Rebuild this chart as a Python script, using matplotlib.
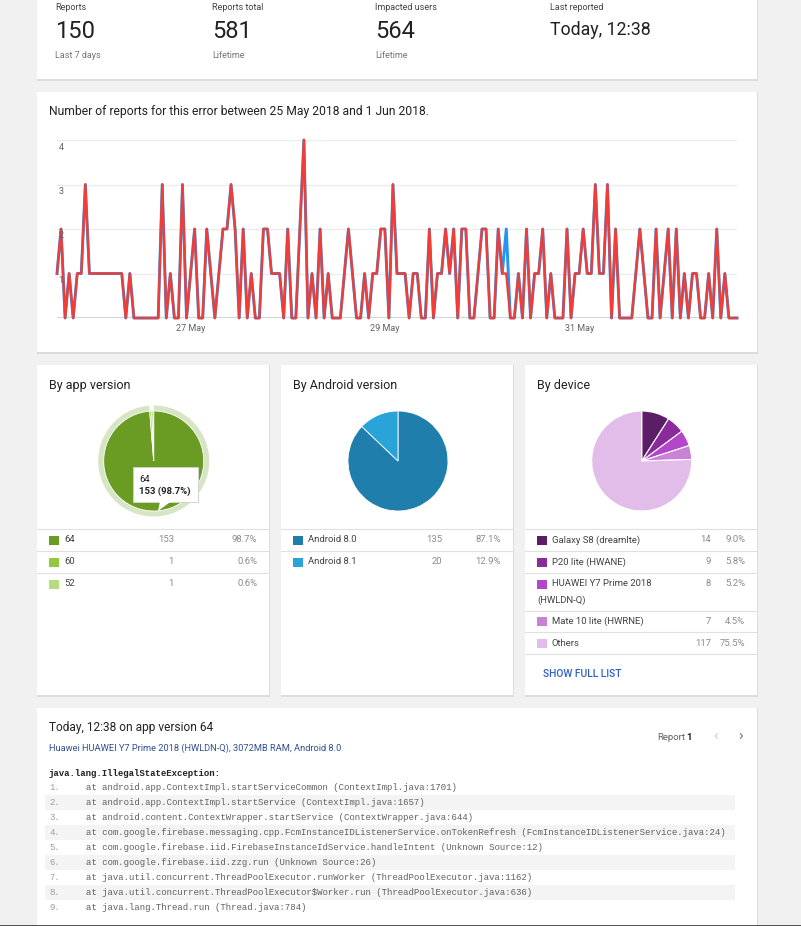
import numpy as np
import pandas as pd
import matplotlib
matplotlib.use("Agg")
import matplotlib.pyplot as plt
import matplotlib.dates as mdates
from matplotlib.patches import Rectangle, Polygon
from matplotlib.lines import Line2D
from matplotlib import transforms

plt.rcParams['font.family'] = ['Roboto', 'DejaVu Sans']

# ---- data ----
summary_labels = ["Reports", "Reports total", "Impacted users", "Last reported"]
summary_values = ["150", "581", "564", "Today, 12:38"]
summary_notes = ["Last 7 days", "Lifetime", "Lifetime", ""]

# hourly report counts, 25 May 15:00 .. 1 Jun 15:00
reports = [1, 2, 0, 1, 0, 1, 1, 3, 1, 1, 1, 1, 1, 1, 1, 1, 1, 0, 1, 0, 0, 0, 0, 0,
           0, 0, 3, 0, 1, 0, 0, 3, 0, 1, 2, 0, 0, 2, 1, 0, 1, 2, 2, 3, 2, 0, 2, 0,
           1, 0, 0, 2, 2, 1, 1, 1, 0, 2, 0, 0, 2, 4, 0, 1, 0, 2, 0, 1, 0, 0, 0, 1,
           2, 1, 0, 0, 1, 0, 1, 1, 2, 2, 0, 3, 1, 1, 1, 0, 1, 1, 0, 0, 2, 0, 1, 1,
           2, 1, 2, 0, 2, 2, 0, 0, 1, 2, 2, 0, 0, 2, 1, 1, 0, 0, 1, 0, 2, 0, 1, 1,
           2, 0, 1, 0, 0, 0, 2, 0, 1, 1, 2, 1, 1, 3, 1, 1, 3, 0, 2, 0, 0, 0, 0, 1,
           2, 1, 0, 0, 2, 0, 1, 2, 0, 2, 0, 1, 0, 1, 1, 0, 0, 1, 0, 2, 0, 1, 0, 0, 0]
users = list(reports)
users[111] = 2
hours = pd.date_range("2018-05-25 15:00", periods=len(reports), freq="h")
date_ticks = pd.to_datetime(["2018-05-27", "2018-05-29", "2018-05-31"])

app_versions = ["64", "60", "52"]
app_counts = [153, 1, 1]
app_pcts = ["98.7%", "0.6%", "0.6%"]
app_colors = ['#6a9c24', '#92c83e', '#b6dc80']

android_versions = ["Android 8.0", "Android 8.1"]
android_counts = [135, 20]
android_pcts = ["87.1%", "12.9%"]
android_colors = ['#1f7eac', '#2aa4d8']

devices = ["Galaxy S8 (dreamlte)", "P20 lite (HWANE)", "HUAWEI Y7 Prime 2018\n(HWLDN-Q)",
           "Mate 10 lite (HWRNE)", "Others"]
device_counts = [14, 9, 8, 7, 117]
device_pcts = ["9.0%", "5.8%", "5.2%", "4.5%", "75.5%"]
device_colors = ['#5b1e66', '#8a2b9b', '#b247c9', '#c982d6', '#e2bde9']

stack = [
    "at android.app.ContextImpl.startServiceCommon (ContextImpl.java:1701)",
    "at android.app.ContextImpl.startService (ContextImpl.java:1657)",
    "at android.content.ContextWrapper.startService (ContextWrapper.java:644)",
    "at com.google.firebase.messaging.cpp.FcmInstanceIDListenerService.onTokenRefresh (FcmInstanceIDListenerService.java:24)",
    "at com.google.firebase.iid.FirebaseInstanceIdService.handleIntent (Unknown Source:12)",
    "at com.google.firebase.iid.zzg.run (Unknown Source:26)",
    "at java.util.concurrent.ThreadPoolExecutor.runWorker (ThreadPoolExecutor.java:1162)",
    "at java.util.concurrent.ThreadPoolExecutor$Worker.run (ThreadPoolExecutor.java:636)",
    "at java.lang.Thread.run (Thread.java:784)",
]

# ---- helpers (pixel coords, origin top-left) ----
W, H = 801, 926
fig = plt.figure(figsize=(W / 100, H / 100), dpi=100)
fig.patch.set_facecolor('#f1f1f1')


def fx(x):
    return x / W


def fy(y):
    return 1 - y / H


def rect(x0, y0, x1, y1, color, z=0, ec='none'):
    fig.add_artist(Rectangle((fx(x0), fy(y1)), (x1 - x0) / W, (y1 - y0) / H,
                             transform=fig.transFigure, facecolor=color,
                             edgecolor=ec, lw=0.6, zorder=z))


def card(x0, y0, x1, y1):
    rect(x0 - 0.5, y0, x1 + 0.5, y1 + 1.5, '#dcdcdc', z=-3)
    rect(x0, y0, x1, y1, 'white', z=-2)


def txt(x, y, s, size, color='#212121', ha='left', va='center', weight='normal', **kw):
    fig.text(fx(x), fy(y), s, fontsize=size, color=color, ha=ha, va=va,
             fontweight=weight, **kw)


def hline(x0, x1, y, color='#e0e0e0', lw=0.8):
    fig.add_artist(Line2D([fx(x0), fx(x1)], [fy(y), fy(y)], transform=fig.transFigure,
                          color=color, lw=lw, zorder=1))


# ---- cards ----
card(37, -5, 757, 79)
card(37, 92, 757, 352)
card(37, 365, 269, 695)
card(281, 365, 513, 695)
card(525, 365, 757, 695)
card(37, 708, 757, 935)

# ---- summary ----
for x, lab, val, note in zip([55, 212, 375, 550], summary_labels, summary_values, summary_notes):
    txt(x, 7, lab, 6.5, '#424242')
    if note:
        txt(x, 31, val, 17, '#212121')
        txt(x, 55, note, 6.5, '#757575')
    else:
        txt(x, 30, val, 12.8, '#212121')

# ---- line chart ----
txt(49, 112, "Number of reports for this error between 25 May 2018 and 1 Jun 2018.", 8.7)
ax = fig.add_axes([fx(57), fy(318), (737 - 57) / W, (318 - 140) / H])
ax.set_facecolor('none')
ax.plot(hours, users, color='#2196f3', lw=2.1, clip_on=False, zorder=3)
ax.plot(hours, reports, color='#f23c35', lw=1.7, clip_on=False, zorder=4)
ax.set_xlim(hours[0], hours[-1])
ax.set_ylim(0, 4)
for v in [1, 2, 3, 4]:
    ax.axhline(v, color='#ececec', lw=1, zorder=1)
ax.axhline(0, color='#cfcfcf', lw=2, zorder=2)
off = transforms.offset_copy(ax.get_yaxis_transform(), fig=fig, x=1.5, y=-7, units='dots')
for v in [1, 2, 3, 4]:
    ax.text(0, v, str(v), transform=off, fontsize=6.5, color='#616161', ha='left', va='center', zorder=5)
ax.set_xticks(date_ticks)
ax.xaxis.set_major_formatter(mdates.DateFormatter('%d %b'))
ax.tick_params(axis='x', length=0, pad=4, labelsize=6.5, labelcolor='#616161')
ax.set_yticks([])
for s in ax.spines.values():
    s.set_visible(False)

# ---- pies ----


def pie_axes(cx, cy, r=50, lim=1.15):
    R = r * lim
    a = fig.add_axes([fx(cx - R), fy(cy + R), 2 * R / W, 2 * R / H])
    return a, lim


def finish(a, lim):
    a.set_xlim(-lim, lim)
    a.set_ylim(-lim, lim)
    a.axis('off')


# app version
pa, lim = pie_axes(153.7, 461)
ring = ['#d6e5c4', 'none', 'none']
pa.pie(app_counts, colors=ring, radius=1.11, startangle=90, counterclock=False,
       wedgeprops=dict(width=0.12, lw=0))
pa.pie(app_counts, colors=app_colors, radius=1.0, startangle=90, counterclock=False,
       wedgeprops=dict(edgecolor='white', lw=0.6))
finish(pa, lim)

# tooltip
rect(133.5, 468, 198.5, 503, '#cfcfcf', z=2)
rect(133, 467, 198, 502, 'white', z=2.1, ec='#d0d0d0')
fig.add_artist(Polygon([(fx(160), fy(501.5)), (fx(171), fy(501.5)), (fx(158), fy(511))],
                       closed=True, transform=fig.transFigure, facecolor='white',
                       edgecolor='none', zorder=2.2))
txt(139, 479, app_versions[0], 6.8, '#212121', zorder=3)
txt(139, 491, "%d (%s)" % (app_counts[0], app_pcts[0]), 6.8, '#212121', weight='bold', zorder=3)

# android version
pb, lim = pie_axes(398, 461)
pb.pie(android_counts, colors=android_colors, radius=1.0, startangle=90, counterclock=False,
       wedgeprops=dict(edgecolor='white', lw=0.6))
finish(pb, lim)

# device
pc, lim = pie_axes(641.7, 461)
pc.pie(device_counts, colors=device_colors, radius=1.0, startangle=90, counterclock=False,
       wedgeprops=dict(edgecolor='white', lw=0.8))
finish(pc, lim)

# titles
txt(49, 385, "By app version", 9)
txt(293, 385, "By Android version", 9)
txt(537, 385, "By device", 9)

# ---- tables ----


def table(x0, x1, labels, counts, pcts, colors, ys, lines, cnt_x, pct_x):
    for y in lines:
        hline(x0, x1, y)
    for lab, c, p, col, y in zip(labels, counts, pcts, colors, ys):
        rect(x0 + 12, y - 4.5, x0 + 21.5, y + 4.5, col, z=1)
        first = lab.split("\n")
        txt(x0 + 27, y, first[0], 6.8, '#424242')
        if len(first) > 1:
            txt(x0 + 12, y + 16, first[1], 6.8, '#424242')
        txt(cnt_x, y, str(c), 6.8, '#8a8a8a', ha='right')
        txt(pct_x, y, p, 6.8, '#8a8a8a', ha='right')


table(37, 269, app_versions, app_counts, app_pcts, app_colors,
      [540, 562, 584], [529, 551, 573], 174, 257)
table(281, 513, android_versions, android_counts, android_pcts, android_colors,
      [540, 562], [529, 551], 442, 501)
table(525, 757, devices, device_counts, device_pcts, device_colors,
      [540, 562, 584, 621.5, 643.5], [529, 551, 573, 611, 632, 654], 711, 745)
txt(543, 674, "SHOW FULL LIST", 7.4, '#2f5fc4', weight='medium')

# ---- report detail ----
txt(49, 727.5, "Today, 12:38 on app version 64", 8.6)
txt(49, 748, "Huawei HUAWEI Y7 Prime 2018 (HWLDN-Q), 3072MB RAM, Android 8.0", 6.7, '#2f4f94')
txt(657, 737, "Report", 6.8, '#616161')
txt(686, 737, "1", 6.8, '#212121', weight='bold')
txt(715, 736, "\u2039", 11, '#c8c8c8', ha='center')
txt(741, 736, "\u203a", 11, '#757575', ha='center')

mono = ['Liberation Mono', 'DejaVu Sans Mono']
txt(49, 773, "java.lang.IllegalStateException:", 6.5, '#212121', weight='bold', family=mono)
for i, line in enumerate(stack):
    y = 787.5 + 15 * i
    if i % 2 == 1:
        rect(45, y - 7.3, 735, y + 7.3, '#f4f4f4', z=-1)
    txt(49, y, "%d." % (i + 1), 6.5, '#9e9e9e', family=mono)
    txt(86, y, line, 6.5, '#616161', family=mono, parse_math=False)

hline(0, W, 925.5, '#333333', lw=1.2)

fig.savefig("out.png", dpi=100, facecolor=fig.get_facecolor())
